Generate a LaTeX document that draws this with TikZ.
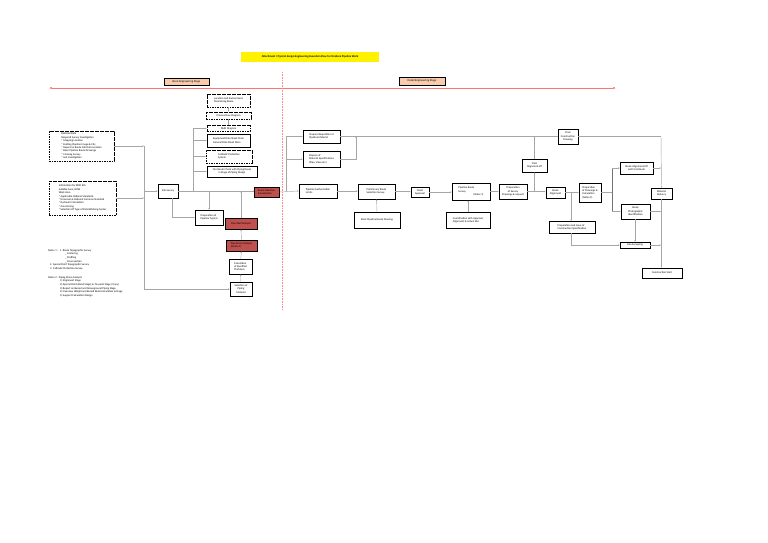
\documentclass[tikz,border=0pt]{standalone}
\usepackage{fontspec}
\setmainfont{Carlito}
\usetikzlibrary{arrows.meta}
\definecolor{brick}{HTML}{C0504D}
\definecolor{peach}{HTML}{F8CBAD}
\tikzset{
  box/.style={draw,line width=0.8pt,inner sep=0.6pt,align=left,font=\fontsize{2.7}{3.4}\selectfont},
  dbox/.style={box,dash pattern=on 1.6pt off 0.9pt},
  rbox/.style={box,fill=brick},
  sz/.style 2 args={minimum width=#1pt,minimum height=#2pt},
  link/.style={draw=black!35,line width=0.45pt},
  arr/.style={link,-{Stealth[length=1.6pt,width=1.4pt]}},
  note/.style={anchor=north west,inner sep=0pt,align=left,font=\fontsize{2.7}{3.7}\selectfont}
}
\begin{document}
\begin{tikzpicture}[x=1pt,y=-1pt]
  \useasboundingbox (0,0) rectangle (768,543);
  % stages
  \node[draw=none,fill=yellow,sz={138}{10},font=\fontsize{2.8}{3.4}\selectfont\bfseries] (title) at (310,57) {Attachment 3 Typical design Engineering Execution Flow for Onshore Pipeline Work};
  \draw[red!55,line width=0.9pt,{Circle[length=2pt]}-{Circle[length=2pt]}] (50,88) -- (615,88);
  \draw[red!45,line width=0.6pt,densely dotted] (282,72) -- (282,310);
  \node[box,fill=peach,sz={45}{7},font=\fontsize{2.9}{3.4}\selectfont] (basic) at (186.5,81.5) {Basic Engineering Stage};
  \node[box,fill=peach,sz={46}{8},font=\fontsize{2.9}{3.4}\selectfont] (detail) at (422,81) {Detail Engineering Stage};
  % basic engineering
  \node[dbox,sz={65}{30}] (data1) at (81.5,146) {Detailed Data\\Required Survey Investigation\\* Mapping Location\\* Existing Pipeline Image \& City\\* Report on Route Site Data Location\\* Basic Pipeline Route Drawings\\* Crossing Survey\\* Soil Investigation};
  \node[dbox,sz={67}{34}] (data2) at (82.5,198) {Information for BOD, EIA\\Suitable Area, ROW\\Work Area\\* Applicable National Standards\\* Universal \& National Common Standard\\* Hydraulic Calculation\\* Area Zoning\\* Selection Of Type of Field Working Center};
  \node[dbox,sz={43}{13}] (loc) at (228.5,100.5) {Location and Environment\\Monitoring Route};
  \node[dbox,sz={45}{7}] (pfd) at (228.5,115.5) {Process Flow Diagram};
  \node[dbox,sz={43}{5.5}] (pid) at (228.5,128.5) {P\&ID Diagram};
  \node[box,sz={43}{13}] (eqp) at (228.5,140.5) {Equipment Data Sheet Main\\General Data Sheet Main};
  \node[dbox,sz={46}{13}] (cp) at (229,156.5) {Cathodic Protection\\System};
  \node[box,sz={50}{11},align=center] (fire) at (232,171.5) {Fire Route Check with Piping Route\\in Stage of Piping Design};
  \node[box,sz={20}{14}] (site) at (168,191) {Site Survey};
  \node[rbox,sz={25}{10}] (rsel) at (266.5,192) {Route Selection\\\& Evaluation};
  \node[box,sz={28}{15}] (prep) at (209,217.5) {Preparation of\\Pipeline Typical};
  \node[rbox,sz={32}{11}] (wall) at (241,223.5) {Pipe Wall Analysis};
  \node[rbox,sz={31}{11}] (stress) at (241.5,245.5) {Pipe Stress Analysis\\(Notes 2)};
  \node[box,sz={23}{15}] (calc) at (240.5,266.5) {Calculation\\of Specified\\Thickness};
  \node[box,sz={22}{14},align=center] (selm) at (241,289) {Selection of\\Piping\\Material};
  \node[note] (notes1) at (48,249) {Notes 1 :\hspace*{2pt}1. Route Topographic Survey\\\hspace*{17pt}\_ Centering\\\hspace*{17pt}\_ Profiling\\\hspace*{17pt}\_ Cross Section\\\hspace*{2pt}2. Special Point Topographic Survey\\\hspace*{2pt}3. Cathodic Protection Survey};
  \node[note] (notes2) at (48,276) {Notes 2 : Piping Stress Analysis\\\hspace*{12pt}1) Alignment Stage\\\hspace*{12pt}2) Special Point (Bend Stage) \& Tie point Stage (if any)\\\hspace*{12pt}3) Report on Buried and Aboveground Piping Stage\\\hspace*{12pt}4) Overview Weight and Buried Bend Calculation \& Stage\\\hspace*{12pt}5) Support Calculation Design};
  % detail engineering
  \node[box,sz={37}{13}] (req) at (321.5,136.5) {Prepare Requisition of\\Pipeline Material};
  \node[box,sz={37}{16}] (spec) at (321.5,159) {Prepare of\\Material Specifications\\(Pipe, Valve etc.)};
  \node[box,sz={38}{14}] (auth) at (318,191) {Pipeline Authorization\\Limits};
  \node[box,sz={37}{15}] (prel) at (376.5,191.5) {Preliminary Route\\Selection Survey};
  \node[box,sz={46}{16}] (routedwg) at (377,220) {Basic Pipeline Route Drawing};
  \node[box,sz={18}{10},align=center] (client) at (420,192) {Client\\Approval};
  \node[box,sz={38}{17}] (survey) at (471,191.5) {Pipeline Route\\Survey\\\hspace*{15pt}(Notes 1)};
  \node[box,sz={44}{16}] (coord) at (468,220) {Coordination with Approval\\Alignment \& Actual Site};
  \node[box,sz={28}{15},align=center] (surveydwg) at (513,191.5) {Preparation\\of Survey\\Drawings \& request};
  \node[box,sz={20}{15},align=center] (final) at (568,136.5) {Final\\Construction\\Drawing};
  \node[box,sz={25}{13},align=center] (alignoff) at (534.5,165.5) {Final\\Alignment off};
  \node[box,sz={19}{11},align=center] (ralign) at (555.5,192.5) {Route\\Alignment};
  \node[box,sz={22}{19}] (calcdwg) at (590,192.5) {Preparation\\of Drawings \&\\Calculation\\(Notes 2)};
  \node[box,sz={46}{12}] (cspec) at (572,227) {Preparation and Issue of\\Construction Specification};
  \node[box,sz={33}{12},align=center] (finroute) at (636.5,168) {Route Alignment/off\\and Final Route};
  \node[box,sz={29}{15},align=center] (photo) at (635.5,211.5) {Route\\Photographic\\Identification};
  \node[box,sz={21}{11},align=center] (delivery) at (661.5,193.5) {Material\\Delivery};
  \node[box,sz={30}{6}] (linesurvey) at (635,245) {Line Surveying};
  \node[box,sz={40}{10}] (start) at (662,273) {Construction Start};
  % connectors, basic stage
  \coordinate (spine1) at (144,146);
  \coordinate (spine2) at (144,289);
  \draw[link] (spine1) -- (spine2);
  \draw[arr] (data1.east) -- (spine1);
  \draw[arr] (data2.east) -- (data2.east -| spine1);
  \draw[arr] (site.west -| spine1) -- (site.west);
  \draw[arr] (spine2) -- (selm.west);
  \draw[arr] (rsel.west |- site.east) -- (rsel.west);
  \draw[link] (site.east) -- (rsel.west |- site.east);
  \draw[arr] ([xshift=4pt]site.south) |- (prep.west);
  \draw[arr] (prep.north |- site.east) -- (prep.north);
  \coordinate (col) at (193,128.5);
  \draw[link] (col) -- (col |- site.east);
  \draw[arr] (col) -- (pid.west);
  \draw[arr] (eqp.west -| col) -- (eqp.west);
  \draw[arr] (cp.west -| col) -- (cp.west);
  \draw[arr] (fire.west -| col) -- (fire.west);
  \draw[arr] (loc) -- (pfd);
  \draw[arr] (pfd) -- (pid);
  \draw[arr] (wall.north) -- (wall.north |- site.east);
  \draw[arr] (stress) -- (wall);
  \draw[arr] (calc) -- (stress);
  \draw[arr] (selm) -- (calc);
  % connectors, detail stage
  \draw[arr] (rsel.east) -- (auth.west);
  \coordinate (fork1) at (286,136.5);
  \draw[link] (fork1) -- (fork1 |- auth.west);
  \draw[arr] (fork1) -- (req.west);
  \draw[arr] (spec.west -| fork1) -- (spec.west);
  \coordinate (top) at (661,136.5);
  \draw[link] (req.east) -- (final.west);
  \draw[link] (final.east) -- (top);
  \draw[arr] (top) -- (delivery.north);
  \draw[arr] (spec.east) -| (356,136.5);
  \draw[arr] (auth.east) -- (auth.east -| prel.west);
  \draw[arr] (prel.east) -- (prel.east -| client.west);
  \draw[arr] (client.east) -- (client.east -| survey.west);
  \draw[arr] (survey.east) -- (survey.east -| surveydwg.west);
  \draw[arr] (surveydwg.east) -- (surveydwg.east -| ralign.west);
  \draw[arr] (ralign.east) -- (ralign.east -| calcdwg.west);
  \draw[arr] (routedwg) -- (prel);
  \draw[arr] (coord.north) -- (coord.north |- survey.south);
  \draw[arr] (alignoff.south |- surveydwg.east) -- (alignoff.south);
  \draw[arr] (alignoff.north) -- (alignoff.north |- req.east);
  \draw[arr] (571,192.5) -- (571,221);
  \draw[arr] (571,233) |- (linesurvey.west);
  \coordinate (fork2a) at (612,168);
  \coordinate (fork2b) at (612,211.5);
  \draw[draw=black!55,line width=0.8pt] (fork2a) -- (fork2b);
  \draw[link] (calcdwg.east) -- (calcdwg.east -| fork2a);
  \draw[arr] (fork2a) -- (finroute.west);
  \draw[arr] (fork2b) -- (photo.west);
  \draw[arr] (finroute.east) -- (finroute.east -| top);
  \draw[arr] (photo.east) -- (photo.east -| top);
  \draw[arr] (linesurvey.east) -- (linesurvey.east -| top);
  \draw[arr] (photo.south -| linesurvey.north) -- (linesurvey.north);
  \draw[arr] (delivery.south) -- (start.north -| delivery.south);
\end{tikzpicture}
\end{document}
